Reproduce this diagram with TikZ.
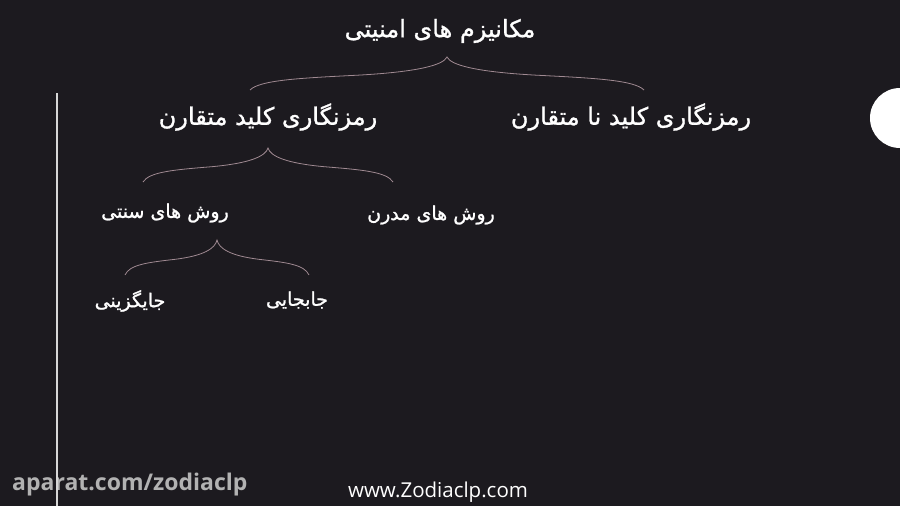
\documentclass[tikz,border=0pt]{standalone}
\usepackage{fontspec}
\setmainfont{Open Sans}
\newfontfamily\farsifont[Script=Arabic,FakeBold=1.2]{DejaVu Sans}
\TeXXeTstate=1
\usetikzlibrary{positioning}
\definecolor{BackClr}{RGB}{28,26,31}
\definecolor{BraceClr}{RGB}{160,138,146}
\definecolor{LineClr}{RGB}{215,215,215}
\definecolor{MarkClr}{RGB}{178,178,178}

\newcommand{\fa}[1]{\beginR #1\endR}
\newcommand{\curlybrace}[3]{%
  \draw[curly,shift={(#1)},xscale=#2,yscale=#3]
    (-1,1) .. controls (-0.95,0.7) and (-0.75,0.64) .. (-0.45,0.55)
    .. controls (-0.15,0.45) and (-0.02,0.25) .. (0,0)
    .. controls (0.02,0.25) and (0.15,0.45) .. (0.45,0.55)
    .. controls (0.75,0.64) and (0.95,0.7) .. (1,1);}

\begin{document}
\begin{tikzpicture}[x=1pt,y=-1pt,
  lbl/.style={text=white,inner sep=0pt,font=\farsifont\fontsize{24}{28}\selectfont},
  sublbl/.style={lbl,font=\farsifont\fontsize{19}{23}\selectfont},
  curly/.style={draw=BraceClr,line width=0.8pt}]
\useasboundingbox (0,0) rectangle (900,506);
\fill[BackClr] (0,0) rectangle (900,506);

\node[lbl] (mech) at (440,31) {\fa{مکانیزم های امنیتی}};
\node[lbl] (sym) at (268,117) {\fa{رمزنگاری کلید متقارن}};
\node[lbl] (asym) at (631,117) {\fa{رمزنگاری کلید نا متقارن}};
\node[sublbl] (trad) at (165,213) {\fa{روش های سنتی}};
\node[sublbl] (modern) at (431,215) {\fa{روش های مدرن}};
\node[sublbl] (subst) at (130,301) {\fa{جایگزینی}};
\node[sublbl] (trans) at (297,300) {\fa{جابجایی}};

\coordinate (tipA) at (447,57);
\coordinate (tipB) at (268,148);
\coordinate (tipC) at (217,240);
\curlybrace{tipA}{197}{33}
\curlybrace{tipB}{125}{34}
\curlybrace{tipC}{92}{35}

\node[text=MarkClr,font=\bfseries\fontsize{23}{27}\selectfont,anchor=west,inner sep=0pt] (aparat) at (12,485) {aparat.com/zodiaclp};
\node[text=white,font=\fontsize{20.5}{24}\selectfont,inner sep=0pt] (site) at (438,492) {www.Zodiaclp.com};

\draw[LineClr,line width=1.2pt] (57,93) -- (57,506);
\fill[white] (900,118) circle[radius=30];

\end{tikzpicture}
\end{document}
